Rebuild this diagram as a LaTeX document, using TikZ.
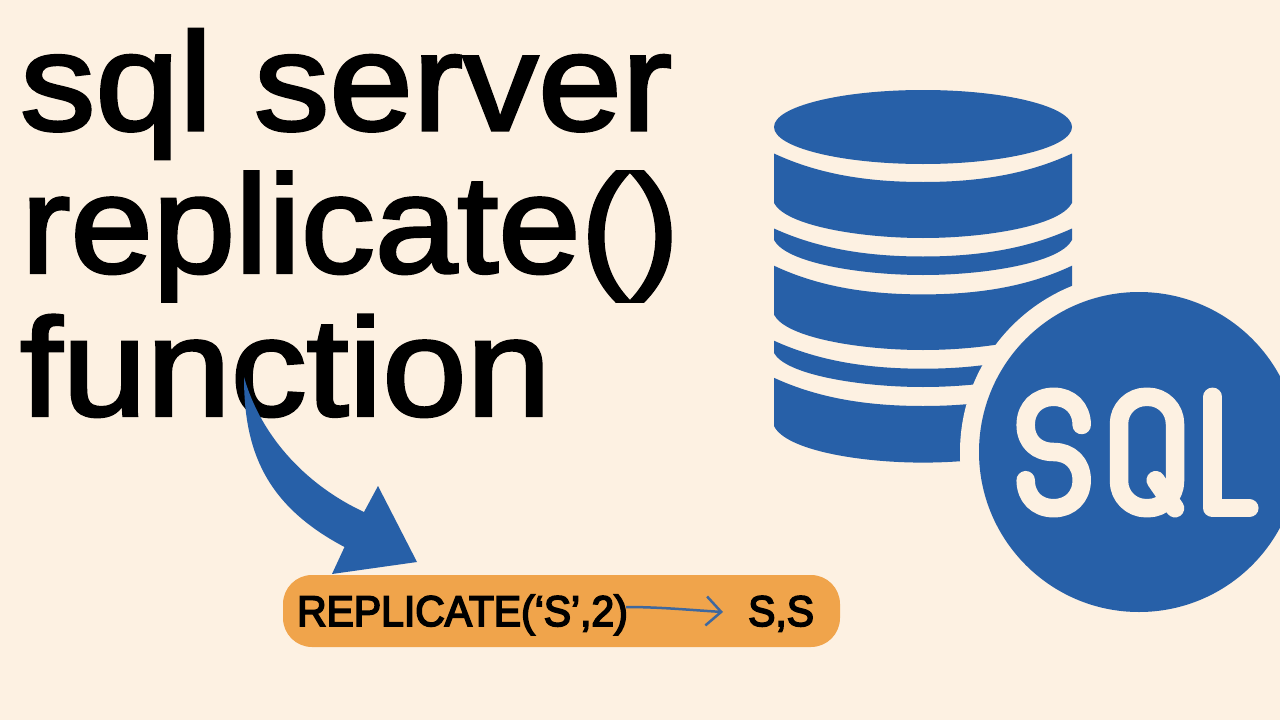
\documentclass[tikz,border=0pt]{standalone}
\usepackage{fontspec}
\setmainfont{Liberation Sans}[FakeBold=4]
\newfontfamily\titlef{Liberation Sans}[FakeBold=2.2]
\usetikzlibrary{arrows.meta}
\definecolor{bgc}{HTML}{FDF1E2}
\definecolor{bluec}{HTML}{2760A8}
\definecolor{orangec}{HTML}{F0A44B}
\definecolor{thinc}{HTML}{3F689E}
\newcommand{\dbband}[4]{\fill[bluec] (774,#1) .. controls (820,#2-7) and (870,#2) .. (923,#2) .. controls (976,#2) and (1026,#2-7) .. (1072,#1) -- (1072,#3) .. controls (1060,#4-12) and (985,#4) .. (923,#4) .. controls (861,#4) and (786,#4-12) .. (774,#3) -- cycle;}
\tikzset{
 titletext/.style={anchor=base west,inner sep=0pt,text=black,font=\titlef\fontsize{139}{139}\selectfont},
 pilltext/.style={anchor=base west,inner sep=0pt,text=black,xscale=.95,font=\fontsize{43}{43}\selectfont},
 sqlstroke/.style={draw=bgc,line width=18.5pt,line cap=round,line join=round}
}
\begin{document}
\begin{tikzpicture}[x=1pt,y=-1pt]
\useasboundingbox (0,0) rectangle (1280,720);
\clip (0,0) rectangle (1280,720);
\fill[bgc] (0,0) rectangle (1280,720);
% titles
\node[titletext,xscale=1.082] (t1) at (20,130) {sql server};
\node[titletext,xscale=1.065] (t2) at (21,272.5) {replicate()};
\node[titletext,xscale=1.09] (t3) at (20,415.5) {function};
% database
\fill[bluec] (923,127) ellipse [x radius=149,y radius=37];
\dbband{153.5}{182}{203}{238}
\dbband{228.5}{256.5}{240}{275}
\dbband{265.7}{294.4}{314.7}{350}
\dbband{340.7}{368.7}{353}{387}
\dbband{377.8}{406}{426}{462.6}
\fill[bgc] (1139,452) circle (179);
\fill[bluec] (1139,452) circle (160);
% SQL letters
\draw[sqlstroke] (1081.7,425) .. controls (1081.7,408) and (1070,396.8) .. (1053.7,396.8) .. controls (1037,396.8) and (1025.7,408) .. (1025.7,425) .. controls (1025.7,442) and (1037,452) .. (1053.7,452) .. controls (1070,452) and (1081.7,463) .. (1081.7,480.2) .. controls (1081.7,497) and (1070,508.2) .. (1053.7,508.2) .. controls (1037,508.2) and (1025.7,497) .. (1025.7,480.2);
\draw[sqlstroke,rounded corners=27pt] (1119,396.8) rectangle (1175,508.2);
\draw[sqlstroke] (1155.7,480.2) -- (1175,508.2);
\draw[sqlstroke] (1212.7,396.8) -- (1212.7,508.2) -- (1249.3,508.2);
% big arrow
\fill[bluec] (244,377) .. controls (244,450) and (265,505) .. (344.5,547) -- (332,574) -- (417,562) -- (378,486) -- (364,512) .. controls (310,487) and (262,440) .. (244,377) -- cycle;
% pill
\node[fill=orangec,draw=none,rounded corners=29pt,minimum width=557pt,minimum height=72pt,inner sep=0pt] (pill) at (561.5,611) {};
\node[pilltext] (expr) at (297,626) {REPLICATE(‘S’,2)};
\node[pilltext] (res) at (748,626) {S,S};
\coordinate (af) at (626,607);
\coordinate (at) at (723,612);
\draw[thinc,line width=2.5pt,-{Straight Barb[length=15pt,width=29pt]}] (af) .. controls (660,607) and (690,610) .. (at);
\end{tikzpicture}
\end{document}
